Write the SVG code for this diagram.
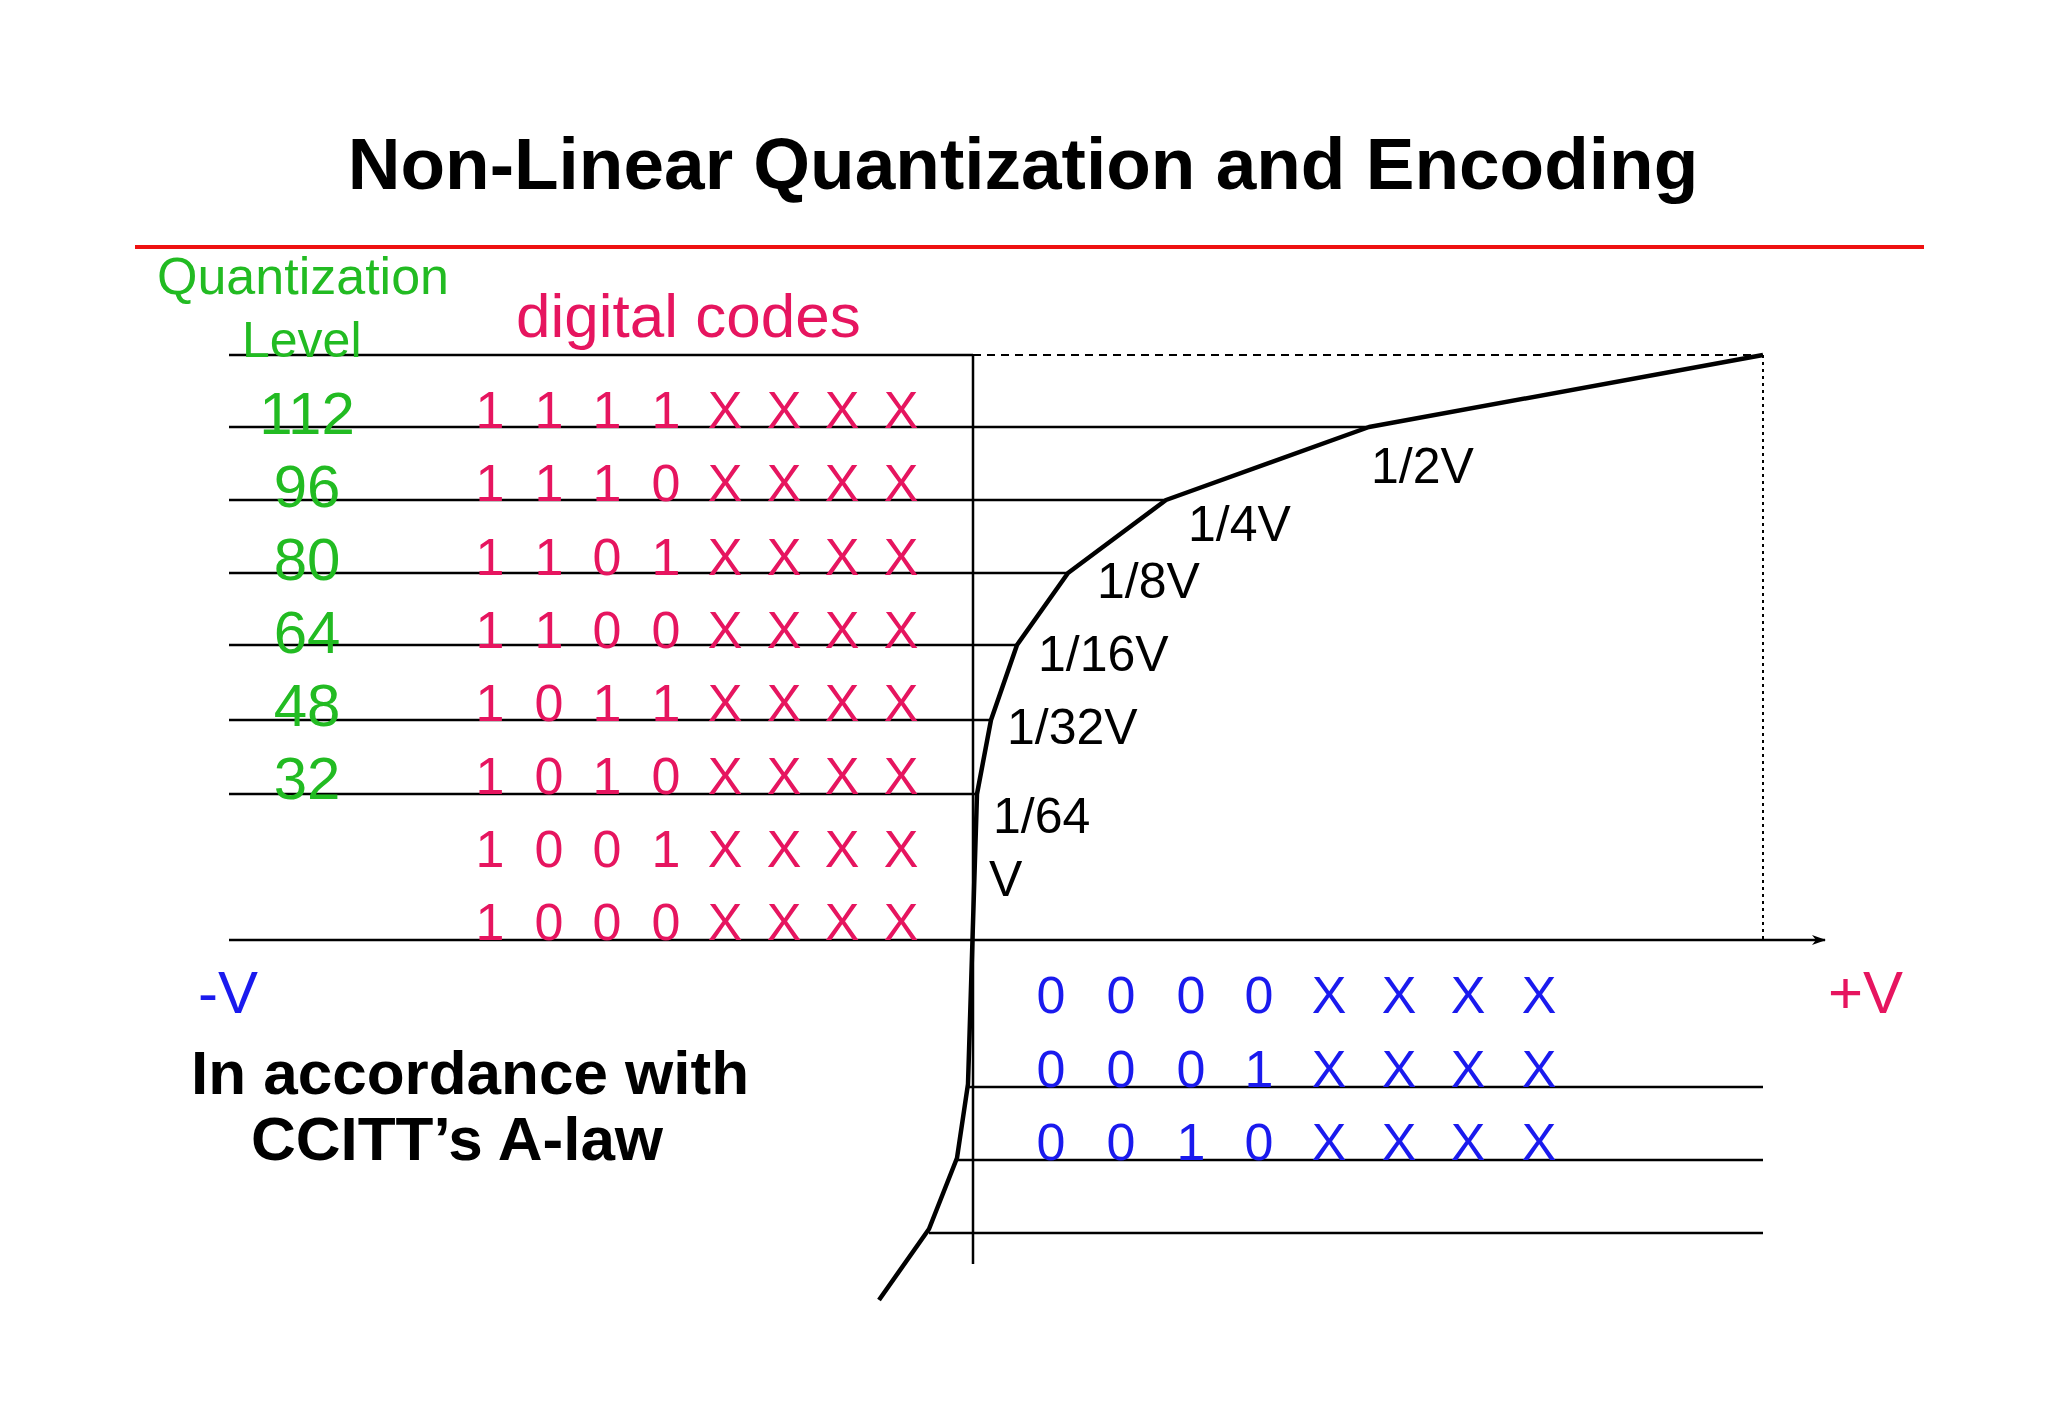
<svg xmlns="http://www.w3.org/2000/svg" width="2048" height="1418" viewBox="0 0 2048 1418">
<defs>
<style>
text{font-family:"Liberation Sans",Arial,sans-serif}
.g{fill:#22bb22;font-size:60px;text-anchor:middle}
.r{fill:#e6155f;font-size:52px;text-anchor:middle}
.b{fill:#1a1aee;font-size:52px;text-anchor:middle}
.k{fill:#000;font-size:50px}
.ln{stroke:#000;stroke-width:2.5;fill:none}
</style>
<marker id="ah" markerWidth="14" markerHeight="10" refX="13" refY="5" orient="auto" markerUnits="userSpaceOnUse"><path d="M0,0 L14,5 L0,10 L4,5 Z" fill="#000"/></marker>
</defs>
<rect width="2048" height="1418" fill="#fff"/>
<text x="1023" y="189" text-anchor="middle" font-size="73" font-weight="bold">Non-Linear Quantization and Encoding</text>
<line x1="135" y1="247" x2="1924" y2="247" stroke="#ee1111" stroke-width="4"/>
<g id="connectors">
<line class="ln" x1="229" y1="355" x2="973" y2="355"/>
<line class="ln" x1="973" y1="355" x2="1763" y2="355" style="stroke-dasharray:8,6;stroke-width:2"/>
<line class="ln" x1="1763" y1="355" x2="1763" y2="940" style="stroke-dasharray:3,4;stroke-width:2"/>
<line class="ln" x1="229" y1="427" x2="1369" y2="427"/>
<line class="ln" x1="229" y1="500" x2="1166" y2="500"/>
<line class="ln" x1="229" y1="573" x2="1068" y2="573"/>
<line class="ln" x1="229" y1="645" x2="1017" y2="645"/>
<line class="ln" x1="229" y1="720" x2="991" y2="720"/>
<line class="ln" x1="229" y1="794" x2="977" y2="794"/>
<line class="ln" x1="229" y1="940" x2="1825" y2="940" marker-end="url(#ah)"/>
<line class="ln" x1="973" y1="355" x2="973" y2="1264"/>
<line class="ln" x1="968" y1="1087" x2="1763" y2="1087"/>
<line class="ln" x1="957" y1="1160" x2="1763" y2="1160"/>
<line class="ln" x1="929" y1="1233" x2="1763" y2="1233"/>
<polyline class="ln" style="stroke-width:4.5;stroke-linejoin:round" points="879,1300 929,1229 957,1158 968,1084 977,794 991,720 1017,645 1068,573 1166,500 1369,427 1763,355"/>
</g>
<g id="labels-green">
<text x="157" y="294" fill="#22bb22" font-size="52">Quantization</text>
<text x="242" y="357" fill="#22bb22" font-size="50">Level</text>
<text class="g" x="307" y="434">112</text>
<text class="g" x="307" y="507">96</text>
<text class="g" x="307" y="580">80</text>
<text class="g" x="307" y="653">64</text>
<text class="g" x="307" y="726">48</text>
<text class="g" x="307" y="799">32</text>
</g>
<text x="516" y="337" fill="#e6155f" font-size="62">digital codes</text>
<g id="codes-red">
<text class="r" y="428"><tspan x="490">1</tspan><tspan x="549">1</tspan><tspan x="607">1</tspan><tspan x="666">1</tspan><tspan x="725">X</tspan><tspan x="784">X</tspan><tspan x="842">X</tspan><tspan x="901">X</tspan></text>
<text class="r" y="501"><tspan x="490">1</tspan><tspan x="549">1</tspan><tspan x="607">1</tspan><tspan x="666">0</tspan><tspan x="725">X</tspan><tspan x="784">X</tspan><tspan x="842">X</tspan><tspan x="901">X</tspan></text>
<text class="r" y="575"><tspan x="490">1</tspan><tspan x="549">1</tspan><tspan x="607">0</tspan><tspan x="666">1</tspan><tspan x="725">X</tspan><tspan x="784">X</tspan><tspan x="842">X</tspan><tspan x="901">X</tspan></text>
<text class="r" y="648"><tspan x="490">1</tspan><tspan x="549">1</tspan><tspan x="607">0</tspan><tspan x="666">0</tspan><tspan x="725">X</tspan><tspan x="784">X</tspan><tspan x="842">X</tspan><tspan x="901">X</tspan></text>
<text class="r" y="721"><tspan x="490">1</tspan><tspan x="549">0</tspan><tspan x="607">1</tspan><tspan x="666">1</tspan><tspan x="725">X</tspan><tspan x="784">X</tspan><tspan x="842">X</tspan><tspan x="901">X</tspan></text>
<text class="r" y="794"><tspan x="490">1</tspan><tspan x="549">0</tspan><tspan x="607">1</tspan><tspan x="666">0</tspan><tspan x="725">X</tspan><tspan x="784">X</tspan><tspan x="842">X</tspan><tspan x="901">X</tspan></text>
<text class="r" y="867"><tspan x="490">1</tspan><tspan x="549">0</tspan><tspan x="607">0</tspan><tspan x="666">1</tspan><tspan x="725">X</tspan><tspan x="784">X</tspan><tspan x="842">X</tspan><tspan x="901">X</tspan></text>
<text class="r" y="940"><tspan x="490">1</tspan><tspan x="549">0</tspan><tspan x="607">0</tspan><tspan x="666">0</tspan><tspan x="725">X</tspan><tspan x="784">X</tspan><tspan x="842">X</tspan><tspan x="901">X</tspan></text>
</g>
<g id="codes-blue">
<text class="b" y="1013"><tspan x="1051">0</tspan><tspan x="1121">0</tspan><tspan x="1191">0</tspan><tspan x="1259">0</tspan><tspan x="1329">X</tspan><tspan x="1399">X</tspan><tspan x="1468">X</tspan><tspan x="1539">X</tspan></text>
<text class="b" y="1087"><tspan x="1051">0</tspan><tspan x="1121">0</tspan><tspan x="1191">0</tspan><tspan x="1259">1</tspan><tspan x="1329">X</tspan><tspan x="1399">X</tspan><tspan x="1468">X</tspan><tspan x="1539">X</tspan></text>
<text class="b" y="1160"><tspan x="1051">0</tspan><tspan x="1121">0</tspan><tspan x="1191">1</tspan><tspan x="1259">0</tspan><tspan x="1329">X</tspan><tspan x="1399">X</tspan><tspan x="1468">X</tspan><tspan x="1539">X</tspan></text>
</g>
<g id="segment-labels">
<text class="k" x="1371" y="483">1/2V</text>
<text class="k" x="1188" y="541">1/4V</text>
<text class="k" x="1097" y="598">1/8V</text>
<text class="k" x="1038" y="671">1/16V</text>
<text class="k" x="1007" y="744">1/32V</text>
<text class="k" x="993" y="833">1/64</text>
<text class="k" x="989" y="896">V</text>
</g>
<text x="198" y="1013" fill="#1a1aee" font-size="60">-V</text>
<text x="1828" y="1013" fill="#e6155f" font-size="60">+V</text>
<g id="note" font-size="62" font-weight="bold" text-anchor="middle">
<text x="470" y="1094">In accordance with</text>
<text x="457" y="1160">CCITT’s A-law</text>
</g>
</svg>
